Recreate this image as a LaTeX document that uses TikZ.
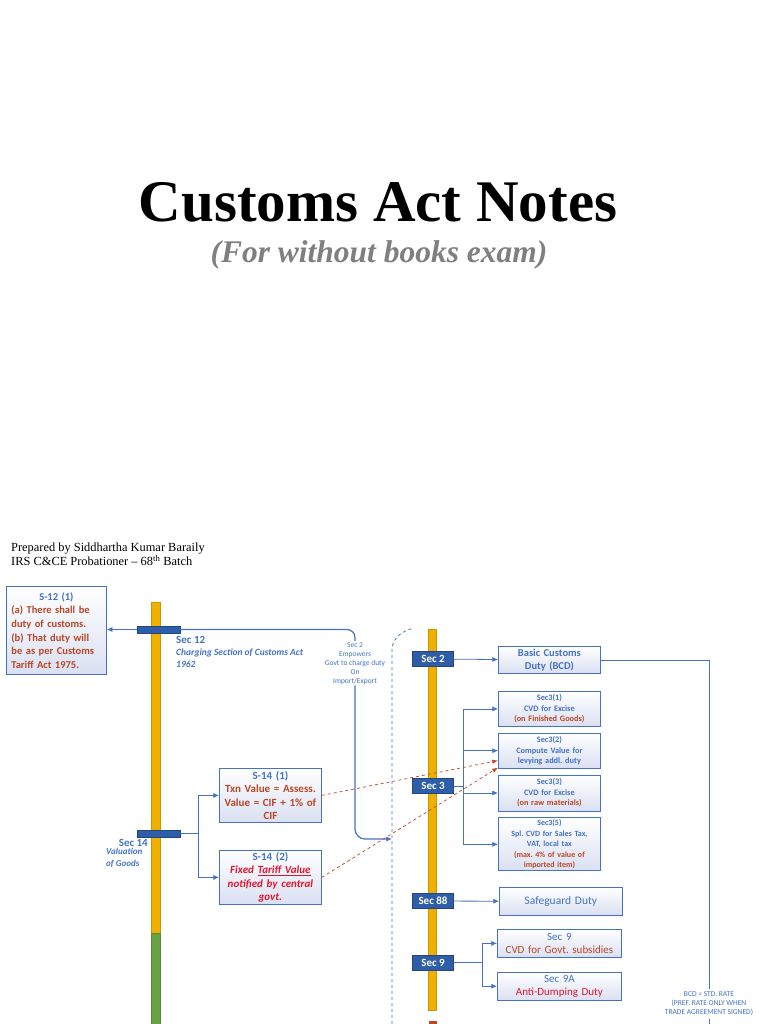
\documentclass[tikz,border=0pt]{standalone}
\usepackage{fontspec}
\setmainfont{Liberation Serif}
\setsansfont{Carlito}
\usepackage{xcolor}
\usetikzlibrary{arrows.meta,positioning}

\definecolor{offblue}{RGB}{68,114,196}
\definecolor{secblue}{RGB}{47,94,168}
\definecolor{rustbrown}{RGB}{188,70,36}
\definecolor{alertred}{RGB}{226,22,46}
\definecolor{baryellow}{RGB}{240,176,0}
\definecolor{bargreen}{RGB}{104,160,66}
\definecolor{boxshade}{RGB}{218,224,242}
\definecolor{subgray}{RGB}{127,127,127}
\newcommand{\fsz}[2]{\fontsize{#1}{#2}\selectfont}
\frenchspacing

\begin{document}
\begin{tikzpicture}[x=1pt,y=-1pt,
  infobox/.style={draw=offblue,line width=0.8pt,top color=white,bottom color=boxshade,
                  align=center,anchor=north west,inner xsep=2pt,inner ysep=0pt,
                  text=offblue,font=\sffamily\bfseries\fsz{8.3}{10.5}},
  seclabel/.style={draw=secblue!75!black,fill=secblue,text=white,
                   font=\sffamily\bfseries\fsz{11}{12},
                   minimum width=41pt,minimum height=15pt,inner sep=0pt},
  barmark/.style={draw=secblue!75!black,fill=secblue,minimum width=43pt,
                  minimum height=7.5pt,inner sep=0pt},
  link/.style={offblue,line width=0.8pt},
  flow/.style={link,-{Latex[length=2mm,width=1.8mm]}},
  crossref/.style={-{Latex[length=2mm]},rustbrown,dashed,line width=0.7pt},
  note/.style={text=offblue,font=\sffamily\fsz{7.5}{9},align=center,inner sep=1pt}
]
\useasboundingbox (0,0) rectangle (768,1024);
% title
\node[anchor=base,font=\bfseries\fsz{59}{70}] (title) at (378,222) {Customs Act Notes};
\node[anchor=base,text=subgray,font=\bfseries\itshape\fsz{31.5}{36}] (subtitle) at (379,262)
  {(For without books exam)};
\node[anchor=north west,align=left,inner sep=0pt,font=\fsz{12.4}{14}] (author) at (11,543)
  {Prepared by Siddhartha Kumar Baraily\\IRS C\&CE Probationer -- 68\textsuperscript{th} Batch};

% time bars
\filldraw[fill=baryellow,draw=baryellow!85!black,line width=0.4pt] (151.5,602) rectangle (160,933);
\filldraw[fill=bargreen,draw=bargreen!85!black,line width=0.4pt] (151.5,933) rectangle (160,1024);
\filldraw[fill=baryellow,draw=baryellow!85!black,line width=0.4pt] (428.5,629) rectangle (436.5,1010);
\fill[rustbrown] (428.5,1021) rectangle (436.5,1024);
\draw[link,dashed] (392,1024) -- (392,650) .. controls (392,638) and (402,631) .. (414,628);

% left side
\node[infobox,align=left,inner xsep=5pt,text width=90pt,minimum height=88pt,
      font=\sffamily\bfseries\fsz{10.5}{13.7},text=rustbrown] (s12box) at (6,586)
  {\makebox[90pt]{\color{offblue}S-12 (1)}\\(a) There shall be\\duty of customs.\\(b) That duty will\\be as per Customs\\Tariff Act 1975.};
\node[barmark] (sec12bar) at (158.5,629.5) {};
\node[anchor=north west,align=left,inner sep=0pt,text=offblue,
      font=\sffamily\bfseries\itshape\fsz{9.5}{12}] (sec12txt) at (176,636)
  {{\upshape\fsz{11}{12}Sec 12}\\Charging Section of Customs Act\\1962};
\node[note,anchor=north] (empower) at (355,641)
  {Sec 2\\Empowers\\Govt to charge duty\\On\\Import/Export};
\coordinate (dashjoin) at (392,839);

\node[barmark] (sec14bar) at (158.5,833.5) {};
\node[anchor=north east,inner sep=0pt,text=offblue,font=\sffamily\bfseries\fsz{11}{12}] (sec14txt) at (148,839) {Sec 14};
\node[anchor=north west,align=left,inner sep=0pt,text=offblue,
      font=\sffamily\bfseries\itshape\fsz{9}{12}] (valtxt) at (106,848) {Valuation\\of Goods};
\node[infobox,text width=98pt,minimum height=54pt,font=\sffamily\bfseries\fsz{11}{13.6}] (s141) at (219,768)
  {S-14 (1)\\{\color{rustbrown}Txn Value = Assess.}\\{\color{rustbrown}Value = CIF + 1\% of}\\{\color{rustbrown}CIF}};
\node[infobox,text width=98pt,minimum height=54pt,font=\sffamily\bfseries\fsz{11}{13.6},text=alertred] (s142) at (219,850)
  {{\color{offblue}S-14 (2)}\\\textit{Fixed \underline{Tariff Value}}\\\textit{notified by central}\\\textit{govt.}};

% right side
\node[seclabel] (sec2) at (433,659) {Sec 2};
\node[seclabel] (sec3) at (433,786) {Sec 3};
\node[seclabel] (sec88) at (433,901) {Sec 88};
\node[seclabel] (sec9) at (433,962.5) {Sec 9};
\node[infobox,text width=98pt,minimum height=27pt,font=\sffamily\bfseries\fsz{10.5}{13.5}] (bcd) at (498,646)
  {Basic Customs\\Duty (BCD)};
\node[infobox,text width=98pt,minimum height=35pt] (s31) at (498,691)
  {Sec3(1)\\CVD for Excise\\{\color{rustbrown}(on Finished Goods)}};
\node[infobox,text width=98pt,minimum height=35pt,below=6pt of s31] (s32)
  {Sec3(2)\\Compute Value for\\levying addl. duty};
\node[infobox,text width=98pt,minimum height=36pt,below=6pt of s32] (s33)
  {Sec3(3)\\CVD for Excise\\{\color{rustbrown}(on raw materials)}};
\node[infobox,text width=98pt,minimum height=53pt,font=\sffamily\bfseries\fsz{8}{10.5},below=6pt of s33] (s35)
  {Sec3(5)\\Spl. CVD for Sales Tax,\\VAT, local tax\\{\color{rustbrown}(max. 4\% of value of}\\{\color{rustbrown}imported item)}};
\node[infobox,text width=119pt,minimum height=28pt,font=\sffamily\fsz{11.5}{13}] (safeguard) at (499,887)
  {Safeguard Duty};
\node[infobox,text width=120pt,minimum height=28pt,font=\sffamily\fsz{11}{13}] (s9box) at (497,929)
  {Sec 9\\{\color{rustbrown}CVD for Govt. subsidies}};
\node[infobox,text width=120pt,minimum height=28pt,font=\sffamily\fsz{11}{13},below=14pt of s9box] (s9a)
  {Sec 9A\\{\color{alertred}Anti-Dumping Duty}};
\node[note,fill=white,inner ysep=3pt] (bcdnote) at (709,1004)
  {BCD = STD. RATE\\(PREF. RATE ONLY WHEN\\TRADE AGREEMENT SIGNED)};
\coordinate (bcdend) at (709,1024);

% connectors
\draw[flow] (sec12bar.west) -- (sec12bar.west -| s12box.east);
\draw[link,line width=1.2pt,rounded corners=8pt] (sec12bar.east) -| (empower.north);
\draw[flow,line width=1.2pt,rounded corners=10pt] (empower.south) |- (dashjoin);
\foreach \b in {s141,s142}
  \draw[flow] (sec14bar.east) -- ++(18,0) |- (\b.west);
\draw[flow] (sec2) -- (bcd);
\foreach \b in {s31,s32,s33,s35}
  \draw[flow] (sec3.east) -- ++(10,0) |- (\b.west);
\draw[flow] (sec88) -- (safeguard);
\foreach \b in {s9box,s9a}
  \draw[flow] (sec9.east) -- ++(29,0) |- (\b.west);
\draw[link] (bcd.east) -| (bcdnote.north);
\draw[link] (bcdnote.south) -- (bcdend);
\draw[crossref] (s141.east) -- ([yshift=8pt]s32.south west);
\draw[crossref] (s142.east) -- ([yshift=1pt]s32.south west);
\end{tikzpicture}
\end{document}
